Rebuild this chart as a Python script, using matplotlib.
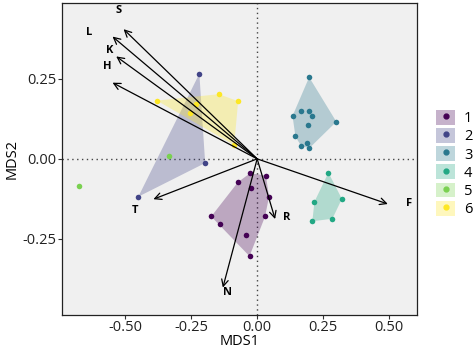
import numpy as np
import matplotlib
matplotlib.use('Agg')
import matplotlib.pyplot as plt
from matplotlib.patches import Polygon, Patch
from matplotlib.lines import Line2D

plt.rcParams['font.family'] = ['Open Sans', 'DejaVu Sans']

# site scores per group (MDS1, MDS2)
g1_x = [-0.027, 0.033, -0.073, -0.023, 0.045, -0.174, -0.140, 0.030, -0.042, -0.029]
g1_y = [-0.045, -0.052, -0.073, -0.092, -0.118, -0.180, -0.203, -0.180, -0.238, -0.304]
g2_x = [-0.219, -0.197, -0.450]
g2_y = [0.266, -0.013, -0.118]
g3_x = [0.197, 0.167, 0.197, 0.134, 0.207, 0.300, 0.194, 0.145, 0.188, 0.166, 0.197]
g3_y = [0.255, 0.149, 0.151, 0.134, 0.134, 0.116, 0.106, 0.070, 0.049, 0.041, 0.033]
g4_x = [0.270, 0.217, 0.321, 0.285, 0.209]
g4_y = [-0.043, -0.134, -0.125, -0.187, -0.195]
g5_x = [-0.333, -0.675]
g5_y = [0.009, -0.085]
g6_x = [-0.380, -0.145, -0.072, -0.232, -0.254, -0.087]
g6_y = [0.182, 0.202, 0.180, 0.172, 0.143, 0.043]

groups = ["1", "2", "3", "4", "5", "6"]
group_x = [g1_x, g2_x, g3_x, g4_x, g5_x, g6_x]
group_y = [g1_y, g2_y, g3_y, g4_y, g5_y, g6_y]
colors = ["#440154", "#414487", "#2A788E", "#22A884", "#7AD151", "#FDE725"]

# fitted variable vectors
vec_names = ["S", "L", "K", "H", "T", "N", "R", "F"]
vec_x = [-0.506, -0.548, -0.534, -0.548, -0.393, -0.130, 0.068, 0.495]
vec_y = [0.405, 0.382, 0.320, 0.238, -0.126, -0.402, -0.188, -0.141]
lab_x = [-0.525, -0.635, -0.557, -0.569, -0.462, -0.111, 0.112, 0.577]
lab_y = [0.463, 0.395, 0.338, 0.287, -0.162, -0.418, -0.183, -0.138]


def convex_hull(pts):
    pts = sorted(set(pts))
    if len(pts) < 3:
        return pts

    def cross(o, a, b):
        return (a[0] - o[0]) * (b[1] - o[1]) - (a[1] - o[1]) * (b[0] - o[0])

    lower, upper = [], []
    for p in pts:
        while len(lower) >= 2 and cross(lower[-2], lower[-1], p) <= 0:
            lower.pop()
        lower.append(p)
    for p in reversed(pts):
        while len(upper) >= 2 and cross(upper[-2], upper[-1], p) <= 0:
            upper.pop()
        upper.append(p)
    return lower[:-1] + upper[:-1]


fig = plt.figure(figsize=(4.74, 3.48), dpi=100)
ax = fig.add_axes([0.131, 0.095, 0.749, 0.897])
ax.set_facecolor("#F0F0F0")

ax.axhline(0, color="#444444", linestyle=(0, (1, 2.5)), linewidth=1, zorder=1)
ax.axvline(0, color="#444444", linestyle=(0, (1, 2.5)), linewidth=1, zorder=1)

for xs, ys, c in zip(group_x, group_y, colors):
    hull = convex_hull(list(zip(xs, ys)))
    if len(hull) >= 3:
        ax.add_patch(Polygon(hull, closed=True, facecolor=c, alpha=0.3,
                             edgecolor="none", zorder=2))
    ax.scatter(xs, ys, s=16, color=c, zorder=3, linewidths=0)

for name, vx, vy, lx, ly in zip(vec_names, vec_x, vec_y, lab_x, lab_y):
    ax.annotate("", xy=(vx, vy), xytext=(0, 0),
                arrowprops=dict(arrowstyle="->", color="black", lw=0.9,
                                shrinkA=0, shrinkB=0, mutation_scale=12),
                zorder=4)
    ax.text(lx, ly, name, fontsize=8, fontweight="bold", ha="center",
            va="center", zorder=5)

ax.set_xlim(-0.739, 0.606)
ax.set_ylim(-0.4875, 0.4875)
ax.set_xticks([-0.5, -0.25, 0, 0.25, 0.5])
ax.set_xticklabels(["-0.50", "-0.25", "0.00", "0.25", "0.50"])
ax.set_yticks([-0.25, 0, 0.25])
ax.set_yticklabels(["-0.25", "0.00", "0.25"])
ax.tick_params(labelsize=10.5, length=3, color="#333333", labelcolor="#222222", pad=1)
ax.set_xlabel("MDS1", fontsize=10.5, labelpad=-1)
ax.set_ylabel("MDS2", fontsize=10.5, labelpad=2)
for sp in ax.spines.values():
    sp.set_color("#222222")
    sp.set_linewidth(0.9)

handles = []
for c in colors:
    handles.append((Patch(facecolor=c, alpha=0.3, edgecolor="none"),
                    Line2D([], [], marker="o", color=c, linestyle="none",
                           markersize=3.5)))
fig.legend(handles, groups, loc="upper left", bbox_to_anchor=(0.905, 0.705),
           frameon=False, fontsize=10.5, handlelength=1.3, handleheight=1.2,
           handletextpad=0.6, labelspacing=0.12, borderpad=0)

fig.savefig("out.png", dpi=100)
